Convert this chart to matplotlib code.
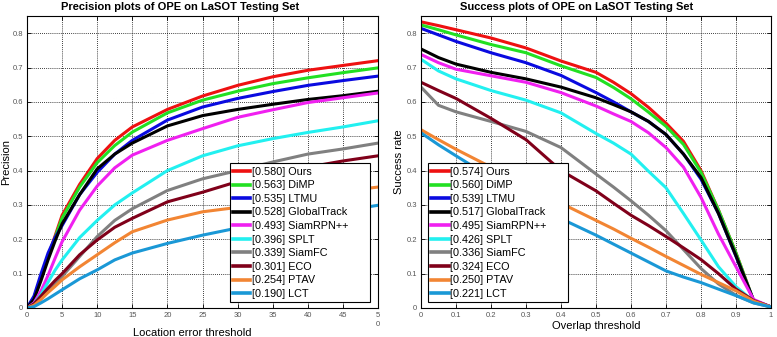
import numpy as np
import matplotlib
matplotlib.use("Agg")
import matplotlib.pyplot as plt

plt.rcParams['font.family'] = ['Liberation Sans', 'DejaVu Sans']

# trackers, scores and colours
names = ['Ours', 'DiMP', 'LTMU', 'GlobalTrack', 'SiamRPN++', 'SPLT', 'SiamFC', 'ECO', 'PTAV', 'LCT']
prec_auc = [0.580, 0.563, 0.535, 0.528, 0.493, 0.396, 0.339, 0.301, 0.254, 0.190]
succ_auc = [0.574, 0.560, 0.539, 0.517, 0.495, 0.426, 0.336, 0.324, 0.250, 0.221]
colors = ['#ee1111', '#22e022', '#0a0ae0', '#000000', '#f020f0',
          '#22f0f0', '#808080', '#80001a', '#f28533', '#1a98d6']

# precision plot (location error threshold)
prec_x = [0, 1, 2, 3, 4, 5, 7.5, 10, 12.5, 15, 20, 25, 30, 35, 40, 45, 50]
prec_ours = [0, 0.03, 0.09, 0.15, 0.21, 0.27, 0.36, 0.435, 0.488, 0.527, 0.578, 0.617, 0.648, 0.673, 0.692, 0.706, 0.72]
prec_dimp = [0, 0.03, 0.09, 0.15, 0.205, 0.262, 0.352, 0.423, 0.473, 0.512, 0.568, 0.605, 0.631, 0.653, 0.67, 0.685, 0.699]
prec_ltmu = [0, 0.035, 0.10, 0.16, 0.205, 0.24, 0.33, 0.395, 0.448, 0.488, 0.547, 0.585, 0.61, 0.63, 0.648, 0.662, 0.675]
prec_global = [0, 0.025, 0.08, 0.14, 0.195, 0.245, 0.33, 0.405, 0.448, 0.48, 0.53, 0.56, 0.578, 0.593, 0.607, 0.618, 0.631]
prec_rpn = [0, 0.015, 0.05, 0.095, 0.145, 0.193, 0.285, 0.355, 0.408, 0.445, 0.488, 0.522, 0.555, 0.577, 0.598, 0.612, 0.626]
prec_splt = [0, 0.012, 0.04, 0.075, 0.11, 0.14, 0.205, 0.255, 0.30, 0.335, 0.40, 0.443, 0.472, 0.493, 0.511, 0.527, 0.545]
prec_siamfc = [0, 0.01, 0.03, 0.05, 0.07, 0.092, 0.15, 0.208, 0.255, 0.289, 0.342, 0.376, 0.40, 0.425, 0.448, 0.463, 0.48]
prec_eco = [0, 0.012, 0.035, 0.058, 0.08, 0.10, 0.155, 0.198, 0.235, 0.261, 0.309, 0.337, 0.368, 0.39, 0.41, 0.428, 0.443]
prec_ptav = [0, 0.008, 0.025, 0.045, 0.063, 0.082, 0.12, 0.155, 0.19, 0.222, 0.256, 0.28, 0.293, 0.31, 0.325, 0.34, 0.352]
prec_lct = [0, 0.004, 0.015, 0.027, 0.04, 0.053, 0.085, 0.111, 0.14, 0.16, 0.188, 0.212, 0.233, 0.25, 0.268, 0.283, 0.299]

# success plot (overlap threshold)
succ_x = [0, 0.05, 0.1, 0.2, 0.3, 0.4, 0.5, 0.55, 0.6, 0.65, 0.7, 0.75, 0.8, 0.85, 0.9, 0.95, 1.0]
succ_ours = [0.833, 0.822, 0.81, 0.786, 0.757, 0.719, 0.686, 0.657, 0.624, 0.584, 0.538, 0.485, 0.40, 0.285, 0.16, 0.022, 0.003]
succ_dimp = [0.824, 0.81, 0.795, 0.767, 0.743, 0.705, 0.671, 0.642, 0.609, 0.57, 0.529, 0.476, 0.395, 0.285, 0.16, 0.022, 0.003]
succ_ltmu = [0.814, 0.795, 0.776, 0.743, 0.714, 0.677, 0.627, 0.60, 0.571, 0.543, 0.505, 0.448, 0.375, 0.275, 0.15, 0.022, 0.003]
succ_global = [0.754, 0.729, 0.71, 0.686, 0.667, 0.643, 0.612, 0.592, 0.571, 0.543, 0.505, 0.448, 0.38, 0.275, 0.152, 0.022, 0.003]
succ_rpn = [0.738, 0.714, 0.695, 0.676, 0.657, 0.627, 0.588, 0.565, 0.543, 0.51, 0.467, 0.41, 0.322, 0.215, 0.12, 0.025, 0.003]
succ_splt = [0.724, 0.69, 0.667, 0.633, 0.605, 0.568, 0.508, 0.48, 0.448, 0.398, 0.35, 0.275, 0.198, 0.12, 0.062, 0.02, 0.003]
succ_siamfc = [0.643, 0.59, 0.571, 0.543, 0.514, 0.467, 0.39, 0.352, 0.312, 0.27, 0.225, 0.17, 0.115, 0.07, 0.037, 0.015, 0.003]
succ_eco = [0.657, 0.633, 0.61, 0.552, 0.49, 0.40, 0.341, 0.305, 0.27, 0.24, 0.208, 0.175, 0.141, 0.10, 0.055, 0.022, 0.003]
succ_ptav = [0.519, 0.49, 0.462, 0.41, 0.36, 0.305, 0.255, 0.23, 0.203, 0.177, 0.15, 0.124, 0.098, 0.074, 0.05, 0.02, 0.003]
succ_lct = [0.51, 0.475, 0.443, 0.38, 0.32, 0.26, 0.212, 0.186, 0.16, 0.134, 0.108, 0.09, 0.074, 0.055, 0.036, 0.015, 0.003]

prec_curves = [prec_ours, prec_dimp, prec_ltmu, prec_global, prec_rpn,
               prec_splt, prec_siamfc, prec_eco, prec_ptav, prec_lct]
succ_curves = [succ_ours, succ_dimp, succ_ltmu, succ_global, succ_rpn,
               succ_splt, succ_siamfc, succ_eco, succ_ptav, succ_lct]

W, H = 777, 337
fig = plt.figure(figsize=(W / 100, H / 100), dpi=100)
ax1 = fig.add_axes([27 / W, 1 - 308 / H, 351 / W, 292 / H])
ax2 = fig.add_axes([421 / W, 1 - 308 / H, 350 / W, 292 / H])

tick_col = '#555555'


def style(ax):
    ax.grid(True, linestyle=(0, (1, 1.5)), color='k', linewidth=0.6)
    ax.tick_params(direction='in', top=True, right=True, length=3, width=0.6,
                   labelsize=5.5, labelcolor=tick_col, pad=3)
    for s in ax.spines.values():
        s.set_linewidth(0.8)
    ax.set_ylim(0, 0.85)
    ax.set_yticks(np.arange(0, 0.81, 0.1))
    ax.set_yticklabels(['0', '0.1', '0.2', '0.3', '0.4', '0.5', '0.6', '0.7', '0.8'])


def add_legend(ax, x0, w):
    leg = ax.legend(loc='lower left', bbox_to_anchor=(x0, 0.02, w, 0.5), mode='expand',
                    borderaxespad=0, fontsize=7.8, frameon=True, fancybox=False,
                    edgecolor='k', framealpha=1, handlelength=1.6, handletextpad=0.15,
                    labelspacing=0.33, borderpad=0.3)
    leg.get_frame().set_linewidth(0.8)
    for line in leg.get_lines():
        line.set_linewidth(2.6)


# precision
for i in range(len(names)):
    ax1.plot(prec_x, prec_curves[i], color=colors[i], linewidth=2.2,
             label='[%.3f] %s' % (prec_auc[i], names[i]))
style(ax1)
ax1.set_xlim(0, 50)
ax1.set_xticks(range(0, 51, 5))
ax1.set_xticklabels(['0', '5', '10', '15', '20', '25', '30', '35', '40', '45', '5\n0'],
                    linespacing=1.3)
ax1.set_xlabel('Location error threshold', fontsize=8, labelpad=0, x=0.47)
ax1.set_ylabel('Precision', fontsize=8, labelpad=1)
ax1.set_title('Precision plots of OPE on LaSOT Testing Set', fontsize=8,
              fontweight='bold', x=0.436, pad=4)
add_legend(ax1, 0.578, 0.399)

# success
for i in range(len(names)):
    ax2.plot(succ_x, succ_curves[i], color=colors[i], linewidth=2.2,
             label='[%.3f] %s' % (succ_auc[i], names[i]))
style(ax2)
ax2.set_xlim(0, 1)
ax2.set_xticks(np.arange(0, 1.01, 0.1))
ax2.set_xticklabels(['0', '0.1', '0.2', '0.3', '0.4', '0.5', '0.6', '0.7', '0.8', '0.9', '1'])
ax2.set_xlabel('Overlap threshold', fontsize=8, labelpad=1)
ax2.set_ylabel('Success rate', fontsize=8, labelpad=2)
ax2.set_title('Success plots of OPE on LaSOT Testing Set', fontsize=8,
              fontweight='bold', x=0.446, pad=4)
add_legend(ax2, 0.02, 0.4)

fig.savefig('out.png', dpi=100)
